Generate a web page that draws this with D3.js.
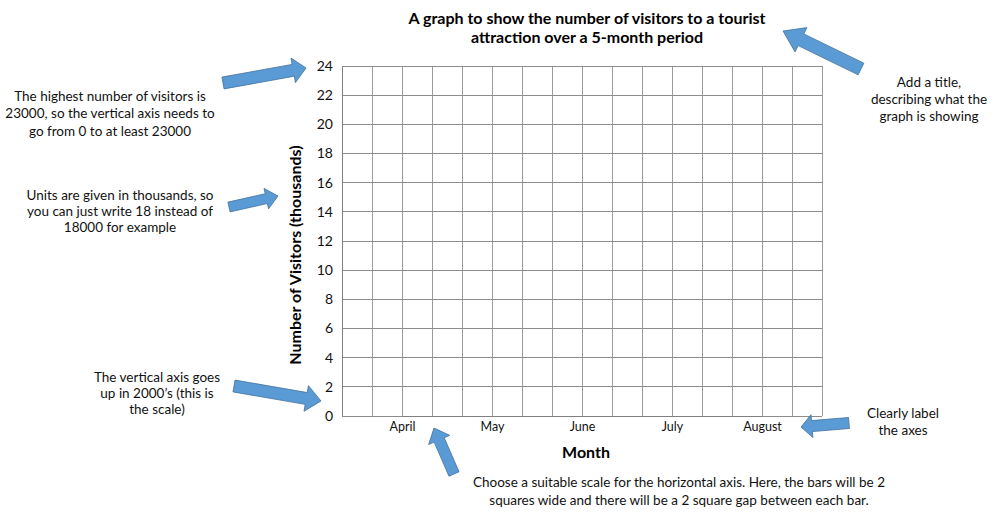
<!DOCTYPE html>
<html>
<head>
<meta charset="utf-8">
<script src="https://cdn.jsdelivr.net/npm/d3@7"></script>
<style>
  body { margin: 0; background: #fff; }
  svg { display: block; font-family: Lato, "Open Sans", sans-serif; }
</style>
</head>
<body>
<svg id="chart" width="1000" height="516"></svg>
<script>
// data
let months = ["April", "May", "June", "July", "August"];
let yTicks = [0, 2, 4, 6, 8, 10, 12, 14, 16, 18, 20, 22, 24];
let yMax = 24;
let squares = 16; // vertical grid columns
let titleLines = ["A graph to show the number of visitors to a tourist", "attraction over a 5-month period"];
let yTitle = "Number of Visitors (thousands)";
let xTitle = "Month";

// notes with their arrows
let notes = [
    { lines: ["The highest number of visitors is", "23000, so the vertical axis needs to", "go from 0 to at least 23000"],
      x: 110, y: 96, gap: 17.5, arrow: [223, 83, 306, 68, 12, 25, 13] },
    { lines: ["Units are given in thousands, so", "you can just write 18 instead of", "18000 for example"],
      x: 120, y: 195, gap: 16, arrow: [229, 207, 278, 196, 10, 21, 12] },
    { lines: ["The vertical axis goes", "up in 2000\u2019s (this is", "the scale)"],
      x: 157, y: 377, gap: 16, arrow: [234, 386, 321, 401, 12, 26, 15] },
    { lines: ["Add a title,", "describing what the", "graph is showing"],
      x: 929, y: 82, gap: 17, arrow: [861, 69, 783, 31, 13, 27, 20] },
    { lines: ["Clearly label", "the axes"],
      x: 903, y: 413, gap: 17, arrow: [849, 423, 801, 427, 11, 23, 11] },
    { lines: ["Choose a suitable scale for the horizontal axis. Here, the bars will be 2", "squares wide and there will be a 2 square gap between each bar."],
      x: 679, y: 482, gap: 18, arrow: [454, 474, 434, 428, 11, 23, 13] }
];

let svg = d3.select('#chart');
let margin = { top: 66, right: 178, bottom: 100, left: 342 };
let width = +svg.attr('width') - margin.left - margin.right;
let height = +svg.attr('height') - margin.top - margin.bottom;

let y = d3.scaleLinear().domain([0, yMax]).range([height, 0]);
let xSq = d3.scaleLinear().domain([0, squares]).range([0, width]);
let x = d3.scalePoint().domain(months).range([xSq(2), xSq(2 + 3 * (months.length - 1))]);

let g = svg.append('g').attr('transform', `translate(${margin.left},${margin.top})`);

// grid
g.append('g')
    .selectAll('line')
    .data(d3.range(0, squares + 1))
    .join('line')
        .attr('x1', d => xSq(d)).attr('x2', d => xSq(d))
        .attr('y1', 0).attr('y2', height)
        .attr('stroke', '#9a9a9a')
        .attr('stroke-width', 1)
        .attr('shape-rendering', 'crispEdges');

g.append('g')
    .selectAll('line')
    .data(yTicks)
    .join('line')
        .attr('x1', 0).attr('x2', width)
        .attr('y1', d => y(d)).attr('y2', d => y(d))
        .attr('stroke', '#8c8c8c')
        .attr('stroke-width', 1)
        .attr('shape-rendering', 'crispEdges');

// axes
let yAxis = g.append('g')
    .call(d3.axisLeft(y).tickValues(yTicks).tickSize(0).tickPadding(9));
yAxis.select('.domain').attr('stroke', '#808080');
yAxis.selectAll('text').attr('font-size', 14).attr('fill', '#111').attr('font-family', 'Lato, sans-serif');

let xAxis = g.append('g')
    .attr('transform', `translate(0,${height})`)
    .call(d3.axisBottom(x).tickSize(0).tickPadding(6));
xAxis.select('.domain').attr('stroke', '#808080');
xAxis.selectAll('text').attr('font-size', 12.5).attr('fill', '#111').attr('font-family', 'Lato, sans-serif');

// axis titles
svg.append('text')
    .attr('transform', `translate(301,${margin.top + height / 2 + 14}) rotate(-90)`)
    .attr('text-anchor', 'middle')
    .attr('font-size', 16)
    .attr('font-weight', 'bold')
    .text(yTitle);

svg.append('text')
    .attr('x', 586).attr('y', 452).attr('dy', '0.35em')
    .attr('text-anchor', 'middle')
    .attr('font-size', 16)
    .attr('font-weight', 'bold')
    .text(xTitle);

// title
svg.append('g')
    .selectAll('text')
    .data(titleLines)
    .join('text')
        .attr('x', 587)
        .attr('y', (d, i) => 18 + i * 19.5)
        .attr('dy', '0.35em')
        .attr('text-anchor', 'middle')
        .attr('font-size', 16)
        .attr('font-weight', 'bold')
        .text(d => d);

// block arrow polygon
function arrowPoints([x1, y1, x2, y2, sw, hw, hl]) {
    let dx = x2 - x1, dy = y2 - y1;
    let len = Math.hypot(dx, dy);
    let ux = dx / len, uy = dy / len;
    let px = -uy, py = ux;
    let bx = x2 - ux * hl, by = y2 - uy * hl;
    let pts = [
        [x1 + px * sw / 2, y1 + py * sw / 2],
        [bx + px * sw / 2, by + py * sw / 2],
        [bx + px * hw / 2, by + py * hw / 2],
        [x2, y2],
        [bx - px * hw / 2, by - py * hw / 2],
        [bx - px * sw / 2, by - py * sw / 2],
        [x1 - px * sw / 2, y1 - py * sw / 2]
    ];
    return pts.map(p => p.join(',')).join(' ');
}

let noteG = svg.append('g');
noteG.selectAll('polygon')
    .data(notes)
    .join('polygon')
        .attr('points', d => arrowPoints(d.arrow))
        .attr('fill', '#5b9bd5')
        .attr('stroke', '#41719c')
        .attr('stroke-width', 0.8);

noteG.selectAll('text')
    .data(notes)
    .join('text')
        .attr('text-anchor', 'middle')
        .attr('font-size', 13.5)
        .attr('fill', '#111')
    .selectAll('tspan')
    .data(d => d.lines.map((l, i) => ({ text: l, x: d.x, y: d.y + i * d.gap })))
    .join('tspan')
        .attr('x', d => d.x)
        .attr('y', d => d.y)
        .attr('dy', '0.35em')
        .text(d => d.text);
</script>
</body>
</html>
